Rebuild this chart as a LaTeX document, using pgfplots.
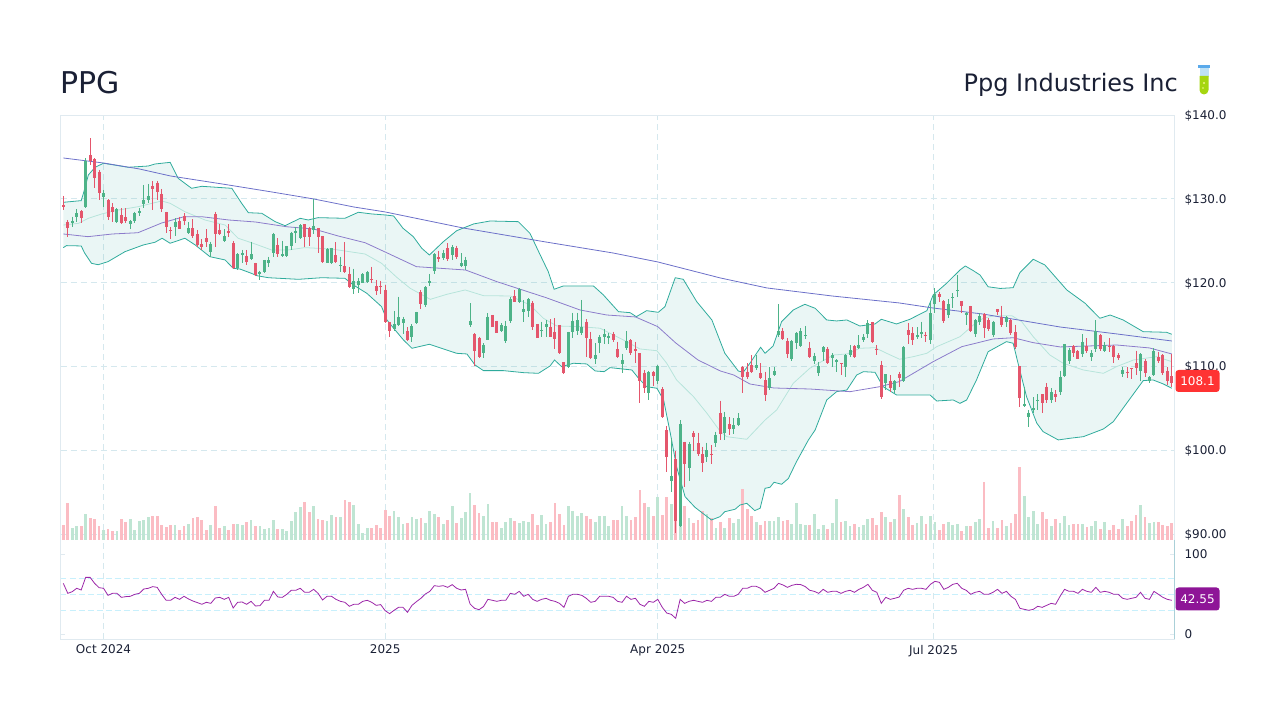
\documentclass[border=0pt]{standalone}
\usepackage{fontspec}
\setmainfont{DejaVu Sans}
\usepackage{pgfplots}
\usepackage{pgfplotstable}
\pgfplotsset{compat=1.18}
\usepgfplotslibrary{fillbetween}

\definecolor{upc}{HTML}{4DB388}
\definecolor{dnc}{HTML}{E4566C}
\definecolor{volup}{HTML}{BFE5D3}
\definecolor{voldn}{HTML}{FBBCC3}
\definecolor{bandl}{HTML}{2FAB9C}
\definecolor{bandm}{HTML}{B7E4DB}
\definecolor{sma200}{HTML}{6C70C9}
\definecolor{sma50}{HTML}{8C7CCB}
\definecolor{gridc}{HTML}{D5E8EE}
\definecolor{rsigrid}{HTML}{C8F0FC}
\definecolor{rsic}{HTML}{9C27A8}
\definecolor{rsibox}{HTML}{8E1597}
\definecolor{framec}{HTML}{E0EAF0}
\definecolor{txt}{HTML}{1A2035}

% candles: i top bot high low volume(height)
\pgfplotstableread{
i t b h l v
2 127.35 127.15 127.87 126.68 12.3
3 128.27 127.79 128.79 127.27 13.7
5 134.55 129.06 134.83 128.94 25.7
9 130.65 130.26 131.05 129.06 9.7
12 128.75 127.19 128.86 127.15 8.7
15 127.35 127.00 127.47 126.36 20.7
16 128.27 127.39 128.47 127.07 9.7
17 128.55 128.27 128.86 127.95 18.7
18 129.86 129.34 131.65 128.86 19.7
19 130.34 129.86 131.77 129.46 22.7
25 127.27 126.68 127.67 125.60 14.7
28 126.48 125.88 127.19 125.80 15.7
33 124.61 123.69 124.89 123.10 14.7
36 125.56 125.01 126.36 124.89 13.7
39 123.37 121.70 123.49 121.51 15.7
40 123.49 123.30 123.89 122.30 14.7
42 123.37 122.82 124.89 122.70 19.7
44 121.23 120.99 121.43 120.31 13.7
45 122.70 121.23 122.70 121.11 10.7
46 122.70 122.38 123.10 121.90 11.7
47 125.80 123.49 125.96 123.10 19.7
49 123.41 123.18 125.01 123.10 10.7
50 124.37 123.22 124.37 123.10 8.7
51 125.96 124.41 126.08 123.89 18.7
52 126.20 125.96 126.68 124.77 27.7
53 126.84 125.28 126.96 125.25 32.7
56 126.80 126.28 129.94 125.76 33.7
59 124.01 122.38 124.09 122.38 18.7
60 124.09 122.38 124.17 122.22 24.7
62 122.10 122.02 123.10 121.23 22.7
65 120.15 119.20 121.66 118.64 34.7
66 120.19 119.72 120.51 118.72 15.7
67 121.03 119.99 121.11 119.91 6.7
68 121.27 120.03 121.39 119.91 11.7
74 115.02 114.47 116.61 114.27 28.7
75 115.86 114.94 118.32 114.82 22.7
76 115.62 115.22 115.94 113.87 15.7
78 114.82 113.47 115.06 112.95 22.7
79 116.45 115.14 116.53 115.06 20.7
81 119.52 117.33 119.60 117.05 16.7
82 120.19 119.99 121.03 119.60 28.7
83 123.42 121.43 123.49 121.03 25.7
85 123.49 122.90 123.89 122.70 15.7
87 124.21 123.30 124.49 122.70 33.7
89 122.30 121.98 123.49 121.82 21.7
90 122.70 121.98 123.10 121.51 27.7
91 115.42 114.94 117.53 114.74 46.7
94 112.56 111.64 112.75 110.96 23.7
95 115.94 113.15 116.33 113.15 35.7
98 114.94 114.27 115.14 114.15 11.7
99 114.82 113.07 115.46 112.75 17.7
100 118.01 115.46 118.24 115.14 21.7
102 119.24 117.65 119.32 117.53 16.7
103 116.85 116.53 117.93 115.34 18.7
104 118.01 116.65 118.13 115.94 17.7
107 114.35 114.19 115.34 113.55 24.7
108 115.06 114.66 115.54 113.55 15.7
113 114.11 109.97 114.15 109.85 33.7
114 115.42 114.15 116.41 113.35 28.7
115 115.54 114.27 116.41 113.75 23.7
116 114.74 113.95 117.93 113.75 26.7
119 111.36 110.88 112.75 110.25 17.7
120 113.55 112.75 113.75 111.56 23.7
121 113.87 113.47 114.42 112.67 23.7
122 113.67 113.35 113.95 112.67 13.7
125 110.77 110.29 111.48 109.25 33.7
126 113.03 112.24 114.23 111.96 23.7
131 109.33 106.79 109.49 106.00 32.7
133 110.09 108.30 110.17 107.90 42.7
136 96.92 96.37 101.42 95.05 35.7
138 103.13 90.95 103.60 90.87 39.7
140 100.70 97.84 101.02 96.37 21.7
144 100.02 99.23 100.90 98.63 25.7
146 101.81 100.82 102.21 100.34 11.7
148 104.00 102.09 104.59 101.21 11.7
150 102.96 102.56 103.80 101.93 16.7
151 103.84 102.96 104.39 102.92 20.7
155 110.16 109.76 111.36 109.57 17.7
158 108.57 107.38 109.88 107.18 18.7
159 109.45 108.97 109.96 108.85 18.7
160 114.26 113.74 117.40 113.54 22.7
163 113.03 110.84 113.15 110.68 15.7
164 114.02 112.83 114.06 112.03 36.7
165 114.22 112.43 114.54 112.27 15.7
166 113.74 113.66 114.82 113.23 14.7
168 111.24 110.68 111.63 110.28 25.7
169 110.08 109.17 110.56 108.85 10.7
170 112.27 111.75 112.43 110.68 14.7
172 111.36 110.96 111.55 109.96 16.7
173 110.72 110.48 110.84 109.37 40.7
175 111.36 109.88 111.47 108.77 18.7
176 111.95 111.36 112.55 111.16 13.7
178 112.55 112.15 113.74 112.03 12.7
179 113.54 113.15 113.86 112.95 14.7
180 115.13 113.86 115.53 113.35 20.7
184 109.05 107.97 109.05 107.18 22.7
186 108.29 107.18 108.37 106.86 20.7
188 112.27 108.25 112.43 108.17 30.7
191 113.74 113.54 114.66 113.23 16.7
192 114.10 113.86 115.33 113.35 23.7
194 116.33 113.15 117.72 112.63 23.7
195 118.60 117.40 119.31 116.33 17.7
198 117.40 116.13 118.00 115.73 17.7
199 118.24 118.12 118.72 116.93 14.7
200 119.11 119.03 120.90 118.24 15.7
202 116.33 116.09 116.53 114.94 13.7
204 115.53 113.86 115.65 113.54 17.7
205 116.01 115.33 116.33 114.94 20.7
208 115.33 113.74 115.45 113.54 18.7
211 115.93 115.33 116.01 114.74 13.7
215 105.51 105.27 107.58 105.11 43.7
216 104.47 104.00 104.79 102.72 22.7
217 104.99 104.79 106.30 104.39 28.7
218 105.99 105.83 106.66 104.79 15.7
221 106.90 105.99 107.38 105.59 13.7
223 108.77 106.98 109.49 106.58 16.7
224 112.63 108.85 112.67 108.69 23.7
225 111.95 110.68 112.15 110.28 14.7
228 112.95 111.47 113.82 111.16 15.7
230 111.55 111.16 111.95 110.68 13.7
231 114.26 112.03 115.53 111.75 18.7
233 112.55 111.87 112.95 111.75 17.7
237 109.57 109.09 109.96 108.69 20.7
241 111.47 109.49 111.55 108.29 34.7
243 108.69 108.29 108.85 108.05 16.7
244 111.87 109.01 112.15 108.85 17.7
}\upT

\pgfplotstableread{
i t b h l v
0 129.26 129.06 130.34 128.67 14.7
1 127.27 126.48 127.47 125.40 36.7
4 128.55 127.67 128.67 127.07 13.7
6 135.23 134.55 137.22 134.04 21.7
7 134.71 132.45 134.83 131.33 20.7
8 133.24 130.73 133.44 129.86 13.7
10 129.86 127.79 129.94 127.47 10.7
11 128.98 128.47 129.46 127.27 8.7
13 128.03 127.15 128.86 126.96 20.7
14 127.79 127.39 128.86 127.07 17.7
20 131.53 131.21 132.13 128.67 23.7
21 131.93 130.85 132.13 129.86 23.7
22 130.58 128.75 131.17 128.47 14.7
23 128.39 126.60 128.47 125.96 12.7
24 126.28 126.20 126.68 125.25 14.7
26 127.35 126.40 127.87 126.36 9.7
27 127.99 127.39 128.27 126.88 13.7
29 126.48 125.56 127.55 125.28 21.7
30 125.80 124.53 126.28 124.29 22.7
31 124.61 124.21 125.17 123.89 19.7
32 125.28 124.89 126.36 124.29 9.7
34 128.15 125.76 128.47 124.29 33.7
35 126.28 125.80 126.96 125.68 11.7
37 126.16 125.96 126.96 125.48 9.7
38 124.69 121.70 124.97 121.62 15.7
41 123.18 122.50 123.89 122.10 17.7
43 122.30 120.91 122.38 120.83 13.7
48 124.49 123.41 125.28 123.02 10.7
54 126.96 125.40 126.96 124.29 37.7
55 126.48 125.48 126.68 124.37 27.7
57 126.48 125.40 126.48 123.49 20.7
58 125.56 122.50 125.56 122.38 19.7
61 123.26 122.50 124.81 122.38 22.7
63 121.98 121.23 124.81 121.19 39.7
64 121.03 119.52 121.90 119.32 37.7
69 120.39 120.35 121.90 119.91 11.7
70 119.60 119.04 120.31 118.48 14.7
71 119.64 119.44 120.23 118.64 11.7
72 119.12 115.34 119.72 115.22 29.7
73 115.26 114.27 115.34 113.47 23.7
77 114.23 113.15 114.66 113.07 16.7
80 118.84 117.45 119.12 116.81 21.7
84 123.02 122.78 123.81 122.42 22.7
86 124.09 122.78 124.69 122.58 19.7
88 124.09 123.02 124.41 122.78 16.7
92 113.87 111.88 113.95 110.09 34.7
93 113.43 111.16 113.55 110.96 26.7
96 116.14 114.74 116.14 114.66 17.7
97 115.46 114.03 115.46 113.95 17.7
101 118.40 117.73 119.12 117.65 18.7
105 117.61 114.74 117.81 114.35 25.7
106 115.06 113.43 115.06 113.35 14.7
109 114.74 113.55 115.62 113.55 17.7
110 114.11 113.23 115.74 112.04 36.7
111 114.94 111.64 114.94 111.48 25.7
112 110.49 109.25 110.49 109.05 14.7
117 115.34 113.35 115.62 111.08 23.7
118 113.27 110.96 114.15 110.85 20.7
123 113.87 113.15 114.15 112.87 19.7
124 112.08 111.16 112.95 111.04 19.7
127 113.15 111.64 113.23 111.36 19.7
128 112.08 111.88 112.95 110.37 22.7
129 111.56 108.30 111.56 105.59 49.7
130 109.25 107.38 109.57 106.87 36.7
132 109.33 108.90 109.49 107.70 23.7
134 107.30 103.92 107.50 103.80 24.7
135 102.41 99.15 102.89 97.44 42.7
137 98.91 91.59 99.95 90.08 41.3
139 101.02 98.35 101.02 95.65 33.7
141 102.01 101.54 102.33 99.95 16.7
142 100.82 99.55 102.09 99.31 19.7
143 99.51 98.43 100.42 97.44 28.7
145 99.55 99.39 100.62 98.31 21.7
147 104.39 101.89 105.91 101.21 17.7
149 103.12 102.52 103.92 101.81 21.7
152 109.96 108.69 110.04 106.78 50.7
153 109.37 108.69 110.36 108.45 31.3
154 110.16 109.37 111.36 109.17 23.7
156 109.17 108.57 110.36 108.45 14.7
157 108.37 106.58 109.37 105.87 18.7
161 114.26 113.23 114.54 113.15 18.7
162 113.03 111.47 113.35 110.96 19.7
167 112.23 111.16 112.95 110.96 14.7
171 112.11 110.44 112.27 110.28 10.7
174 110.36 110.28 110.36 108.97 17.7
177 112.43 111.16 112.55 110.96 15.7
181 115.25 112.95 115.33 112.75 21.7
182 112.03 111.95 112.55 111.36 14.7
183 110.12 106.30 110.68 106.07 27.7
185 108.25 107.38 108.97 106.98 17.7
187 109.09 108.57 109.37 107.58 44.7
189 114.34 113.74 115.13 112.67 22.7
190 113.94 113.15 114.66 112.55 14.7
193 113.74 113.66 114.14 112.95 15.7
196 118.60 118.24 118.91 117.72 9.7
197 117.80 115.41 117.92 115.21 15.7
201 117.76 117.24 117.80 116.41 8.7
203 117.20 114.26 117.24 114.14 13.7
206 116.25 114.54 116.33 113.35 57.7
207 115.53 114.46 115.73 114.26 11.7
209 116.81 116.49 116.85 116.13 11.7
210 115.85 114.90 117.24 114.74 19.7
212 115.53 113.94 115.65 113.74 16.7
213 114.06 112.27 114.98 112.03 25.7
214 110.04 106.26 110.04 105.19 72.7
219 106.66 105.59 106.70 104.47 27.7
220 107.58 105.99 107.97 105.67 20.7
222 106.70 106.38 107.18 105.79 20.7
226 112.43 111.63 112.51 111.08 15.7
227 111.83 110.92 111.95 110.84 15.7
229 112.43 111.87 113.35 111.55 12.7
232 113.74 112.03 113.86 111.87 10.7
234 112.43 112.27 113.35 111.75 9.7
235 112.43 111.16 112.55 110.44 14.7
236 111.32 111.04 111.55 110.76 10.7
238 109.37 109.25 109.88 108.57 13.7
239 109.76 109.64 109.76 108.45 18.7
240 110.36 109.84 111.87 108.97 24.7
242 110.64 109.25 110.84 108.69 22.7
245 111.16 110.68 111.75 110.36 17.7
246 111.36 109.25 111.47 108.97 14.7
247 109.45 108.29 109.88 107.78 13.7
248 108.85 107.97 111.47 107.58 16.7
}\dnT

\pgfplotstableread{
i p
0 134.87
9 134.27
17 133.56
24 132.72
35.5 131.77
46.7 130.81
56 129.98
65 129.02
72 128.43
89.4 126.52
108 124.84
123 123.53
133 122.46
147 120.55
157.4 119.36
172 118.40
187 117.57
194.5 116.97
205.7 116.25
223 114.70
235.7 113.87
248 113.03
}\smaA

\pgfplotstableread{
i p
0 125.80
5.5 125.48
11 125.80
16.7 125.95
22 127.11
27 127.86
31 127.86
37 127.47
43 127.23
50 126.66
56 126.40
61.5 125.56
67.5 124.76
72 123.65
79 121.90
90 121.50
97 120.11
108 118.20
115.6 116.73
121.6 116.13
128 115.90
133 114.74
137 112.80
142 110.76
147 109.45
150 108.97
153.6 107.90
159 107.42
167 107.30
176 106.98
182.7 107.58
187 108.18
194.6 110.56
201 112.35
208 113.27
212.5 113.42
217 112.83
223 112.32
235.7 112.55
243 112.20
248 111.48
}\smaB

\pgfplotstableread{
i p
0 129.58
4 129.78
4.5 130.65
5.6 132.84
7.1 133.76
9 134.24
14.5 133.76
19 133.91
20.5 134.15
23.9 134.35
25.7 132.44
28.7 131.25
31 131.49
37.7 131.25
39.9 129.46
41.4 128.34
44.4 128.27
47.4 127.27
49.6 126.79
53 127.67
54.8 127.47
57 127.75
63 127.67
66 128.39
69 128.19
72 128.07
73.9 127.95
76 126.48
78.3 125.48
80.2 124.09
81.9 123.29
85 124.87
88 126.19
91.8 127.00
95.5 127.35
101.8 127.27
104.4 125.88
106.7 123.29
108.5 121.30
109.8 119.20
111.9 119.60
118.6 119.60
120.8 118.54
124.2 116.53
126.8 116.41
128.2 115.93
130.5 116.65
133.1 116.45
134.6 117.13
136.9 120.58
138.7 120.39
141.7 117.73
145.1 115.54
148 111.56
151 109.45
152.1 109.29
153.6 110.37
156 112.28
157 111.56
158.8 112.43
160.7 115.34
163.3 116.73
165.9 117.41
168.2 116.93
170.8 115.54
173 115.42
175.3 115.54
178.2 114.82
181.6 115.06
183 115.62
186.4 115.06
189.4 115.62
193.2 116.65
194.6 118.52
197.6 119.91
200.6 121.50
201.8 121.98
203.6 121.42
205.1 120.90
206.9 119.50
209.6 119.30
212.5 119.39
214 121.18
217 122.78
219.6 122.10
224.5 119.12
228.6 117.53
231.9 115.74
234.2 116.13
237.1 115.54
241.6 114.14
246.8 114.07
248 113.83
}\bbU

\pgfplotstableread{
i p
0 124.17
0.7 124.41
4 124.37
4.8 123.50
6.3 122.30
7.8 122.13
10 122.50
13.8 123.69
17.9 124.49
20.5 124.81
22.1 125.29
23.9 124.69
27.2 125.29
29.5 124.49
32.8 123.09
36.2 122.70
38 121.70
39.5 121.62
42.1 121.10
43.3 120.82
45.9 120.58
52.6 120.39
57.8 120.58
63 120.51
64.9 119.71
67.9 118.72
71.2 117.13
72.4 115.54
73.9 114.55
76.1 113.15
78 112.16
81.9 112.64
88 111.56
90.3 111.48
92.1 110.17
94 109.49
98.5 109.49
103 109.25
106.3 109.17
108.9 110.05
109.9 110.76
111.5 109.96
114.1 110.37
117.1 110.29
119 109.45
121 109.37
122.3 109.85
127.2 109.57
128.7 108.58
130.5 107.57
132.8 107.39
134.3 105.99
135.8 102.02
137.2 98.03
139.1 94.45
141.3 93.19
145 91.67
146.9 92.06
148 92.66
150.3 92.95
151.4 93.46
152.9 93.66
154.7 92.79
155.9 93.07
157 95.45
158.1 95.57
159 96.17
160.7 95.93
162.2 96.61
164 98.60
166.7 101.22
168.2 102.41
170.8 105.99
173 106.98
175.3 107.18
177.5 108.97
179 109.37
181.6 109.29
183.4 107.58
186.4 106.59
193.9 106.59
195.4 105.87
199.1 105.99
200.6 105.59
202.1 105.99
204.3 108.38
206.9 111.75
211 112.95
212.5 112.76
213.6 110.37
215.5 106.38
217.8 103.21
219.2 102.21
222.6 101.22
225.2 101.42
228.2 101.61
232.7 102.53
234.9 103.40
237.9 105.60
241.6 108.30
243.8 108.38
246.1 107.90
248 107.39
}\bbL

\pgfplotstableread{
i p
0 126.87
3.4 127.07
5.6 127.67
8.6 128.19
12.3 128.66
16.8 129.06
22 129.74
23.9 129.46
27.2 128.46
31.7 127.47
36.2 126.87
39.1 125.29
42.9 124.61
46.6 123.89
50.3 123.89
54 124.17
60 124.01
67.5 123.41
71.2 122.30
74.6 120.63
77.6 119.32
82.1 118.00
85.8 118.60
89.9 119.12
94 118.44
100 118.40
104.4 117.33
107.4 115.74
110.4 114.82
115.6 114.74
120.1 114.55
125.3 113.15
129 112.08
132.8 111.87
135 110.37
137.2 108.38
141 106.38
144 104.40
146.9 102.29
148.4 101.61
152.9 101.30
157 103.60
159.6 104.80
163.3 107.98
167 109.77
170 110.68
172.3 111.36
175.3 111.48
178.2 112.16
181.6 112.23
184.2 111.56
187.1 110.85
190.2 111.16
193.2 111.56
195.4 112.35
200.6 113.54
203.6 114.94
205.8 115.74
208 116.01
212.2 116.05
214.4 115.34
217 113.54
220.7 111.36
223.7 110.37
228.2 109.57
232.7 109.17
235.6 109.96
239.4 110.76
244.6 111.16
248 110.56
}\bbM

\pgfplotstableread{
r
63.7
51.2
53.3
57.5
55.4
71.2
71.2
63.7
58.3
57.5
48.7
51.2
51.2
46.2
47.1
47.5
50.0
51.2
56.6
57.5
59.6
58.7
50.0
42.5
42.5
46.2
43.7
47.5
44.2
41.6
39.6
37.5
40.0
38.7
45.4
46.2
43.7
46.2
32.9
40.0
40.4
37.5
41.2
35.4
35.8
42.5
42.5
53.7
46.6
46.2
50.0
55.0
55.0
57.5
52.5
52.5
56.2
51.2
42.9
47.5
47.5
43.7
41.2
40.0
35.0
37.5
37.5
41.2
42.5
40.0
36.2
37.1
29.6
25.8
30.0
33.7
33.7
27.5
36.2
40.8
45.0
50.4
53.7
60.8
60.0
60.8
58.7
62.1
57.5
55.4
56.2
37.9
32.5
30.8
34.6
43.7
42.5
41.2
42.5
42.5
51.2
50.0
53.7
47.5
50.0
43.7
41.2
43.7
45.0
42.5
41.2
38.7
33.7
47.5
50.0
50.0
48.7
45.0
40.0
41.2
47.5
47.5
47.5
46.2
41.2
40.0
47.5
43.7
45.0
37.5
35.0
41.2
40.0
43.7
33.7
26.6
25.0
20.0
43.7
38.7
41.2
42.5
41.2
40.0
42.5
41.2
46.2
46.2
50.0
47.5
47.5
50.0
57.5
57.5
60.0
60.0
57.5
52.5
55.0
57.5
63.7
61.7
58.7
61.2
62.5
62.1
59.6
55.0
53.7
51.2
56.2
52.5
53.7
53.7
51.2
53.7
55.0
52.5
56.2
58.7
62.5
55.0
52.5
38.7
46.2
43.7
45.0
46.6
55.0
57.5
56.2
57.5
57.5
56.2
62.5
66.2
65.0
56.2
58.7
62.5
63.7
57.5
55.0
50.0
52.5
53.7
50.0
50.0
52.5
56.2
51.2
53.7
47.5
43.7
32.5
31.2
30.0
31.2
35.0
33.7
36.2
38.7
37.5
47.5
56.2
53.7
53.7
51.2
56.2
53.7
52.5
58.7
52.5
53.7
52.5
50.0
50.0
45.0
43.7
45.0
46.2
52.5
45.0
43.7
53.7
50.0
46.2
43.7
42.5
}\rsiT

\pgfplotsset{
  base/.style={
    scale only axis, width=1114pt,
    xmin=-0.63, xmax=248.6,
    axis line style={draw=none},
    tick style={draw=none},
    xtick={9,72,133,194.7},
    grid style={draw=gridc, line width=0.8pt, dash pattern=on 6pt off 4pt},
    xticklabels={},
  },
  candle/.style={draw=none, no markers, error bars/.cd, y dir=minus, y explicit, error mark=none},
}

\begin{document}
\begin{tikzpicture}[x=1pt,y=1pt,font=\fontsize{12}{14}\selectfont]

% volume sits under everything else
\begin{axis}[base, at={(60.5pt,180pt)}, anchor=south west, height=425pt,
    ymin=0, ymax=425, ytick=\empty, xtick=\empty]
\addplot[ycomb, draw=volup, line width=2.8pt, mark=none] table[x=i,y=v] {\upT};
\addplot[ycomb, draw=voldn, line width=2.8pt, mark=none] table[x=i,y=v] {\dnT};
\end{axis}

% price panel
\begin{axis}[base, at={(60.5pt,180pt)}, anchor=south west, height=425pt,
    ymin=89.28, ymax=140,
    xmajorgrids, ymajorgrids,
    ytick={90,100,110,120,130,140},
    yticklabels={\$90.00,\$100.0,\$110.0,\$120.0,\$130.0,\$140.0},
    yticklabel pos=right,
    yticklabel style={text=txt, xshift=6.5pt, yshift=-0.8pt},
    ]
\addplot[name path=upper, draw=bandl, line width=0.8pt, mark=none] table[x=i,y=p] {\bbU};
\addplot[name path=lower, draw=bandl, line width=0.8pt, mark=none] table[x=i,y=p] {\bbL};
\addplot[fill=bandl, fill opacity=0.1, draw=none] fill between[of=upper and lower];
\addplot[draw=bandm, line width=0.8pt, mark=none] table[x=i,y=p] {\bbM};
\addplot[draw=sma200, line width=0.8pt, mark=none] table[x=i,y=p] {\smaA};
\addplot[draw=sma50, line width=0.8pt, mark=none] table[x=i,y=p] {\smaB};

% wicks
\addplot[candle, error bar style={draw=upc, line width=1pt}]
    table[x=i, y=h, y error minus expr=\thisrow{h}-\thisrow{l}] {\upT};
\addplot[candle, error bar style={draw=dnc, line width=1pt}]
    table[x=i, y=h, y error minus expr=\thisrow{h}-\thisrow{l}] {\dnT};
% bodies
\addplot[candle, error bar style={draw=upc, line width=3pt}]
    table[x=i, y=t, y error minus expr=\thisrow{t}-\thisrow{b}] {\upT};
\addplot[candle, error bar style={draw=dnc, line width=3pt}]
    table[x=i, y=t, y error minus expr=\thisrow{t}-\thisrow{b}] {\dnT};
\end{axis}

% rsi panel
\begin{axis}[base, at={(60.5pt,80.5pt)}, anchor=south west, height=99.5pt,
    ymin=-6.5, ymax=117.9,
    xmajorgrids, ymajorgrids,
    xticklabels={Oct 2024,2025,Apr 2025,Jul 2025},
    xticklabel style={text=txt, yshift=-2pt},
    ytick={30,50,70}, yticklabels={},
    y grid style={draw=rsigrid, line width=0.8pt, dash pattern=on 6pt off 3pt},
    extra y ticks={0,100},
    extra y tick labels={0,100},
    extra y tick style={grid=none, tick style={draw=framec, line width=0.8pt}},
    yticklabel pos=right,
    yticklabel style={text=txt, xshift=6.5pt},
    ]
\addplot[draw=rsic, line width=0.8pt, mark=none] table[x expr=\coordindex, y=r] {\rsiT};
\end{axis}

% panel frame
\draw[framec, line width=0.8pt] (1174.5,180) -- (1174.5,605) -- (60.5,605) -- (60.5,80.5) -- (1174.5,80.5);
\draw[color={rgb,255:red,170;green,208;blue,216}, line width=0.8pt] (1174.5,180) -- (1174.5,80.5);

% last value tags
\node[fill={rgb,255:red,255;green,51;blue,51}, rounded corners=3pt, text=white, minimum width=44pt, minimum height=22pt, inner sep=0pt, font=\fontsize{12}{14}\selectfont] at (1197.5,339) {108.1};
\node[fill=rsibox, rounded corners=3pt, text=white, minimum width=44pt, minimum height=23pt, inner sep=0pt, font=\fontsize{12}{14}\selectfont] at (1197.5,121) {42.55};

% headings
\node[anchor=base west, inner sep=0pt, text=txt, font=\fontsize{30}{36}\selectfont] at (60,626) {PPG};
\node[anchor=base east, inner sep=0pt, text=txt, font=\fontsize{24}{28}\selectfont] at (1178,628) {Ppg Industries Inc};

% test tube icon
\fill[color={rgb,255:red,190;green,225;blue,245}] (1199.5,652) rectangle (1208.5,643);
\fill[color={rgb,255:red,165;green,214;blue,16}] (1199.5,644) -- (1208.5,644) -- (1208.5,630) arc[start angle=0,end angle=-180,radius=4.5] -- cycle;
\fill[color={rgb,255:red,90;green,170;blue,235}] (1198,655) rectangle (1210,651.5);
\fill[color={rgb,255:red,240;green,245;blue,140}] (1204,637) circle (1.2) (1203,632) circle (0.9);

\path[use as bounding box] (0,0) rectangle (1280,720);
\end{tikzpicture}
\end{document}
